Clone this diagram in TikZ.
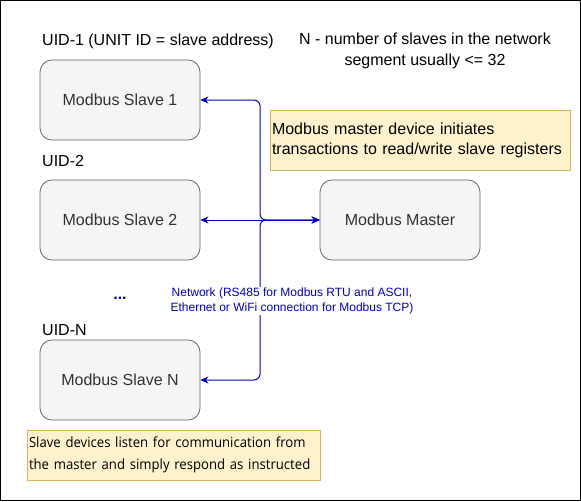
\documentclass[tikz,border=0pt]{standalone}
\usepackage{fontspec}
\setmainfont{Liberation Sans}
\newfontfamily\notefont[FakeStretch=0.94]{Open Sans}
\usetikzlibrary{arrows.meta}
\definecolor{boxfill}{HTML}{F5F5F5}
\definecolor{boxline}{HTML}{666666}
\definecolor{boxtext}{HTML}{333333}
\definecolor{notefill}{HTML}{FFF2CC}
\definecolor{noteline}{HTML}{D6B656}
\definecolor{netblue}{HTML}{0000CC}
\tikzset{
  devbox/.style={draw=boxline, fill=boxfill, rounded corners=12pt, minimum width=160pt, minimum height=80pt, text=boxtext, font=\fontsize{16}{20}\selectfont, line width=0.8pt},
  notebox/.style={draw=noteline, fill=notefill, line width=0.8pt, align=left, inner sep=2pt},
  plain/.style={font=\fontsize{16}{21}\selectfont, inner sep=0pt},
  edge/.style={draw=netblue, line width=1pt, rounded corners=6pt, {Stealth[length=8pt,width=7pt,inset=2.5pt]}-{Stealth[length=8pt,width=7pt,inset=2.5pt]}}
}
\begin{document}
\begin{tikzpicture}[x=1pt,y=-1pt]
\useasboundingbox (0,0) rectangle (581,501);
\draw[black, line width=1pt] (0.5,0.5) rectangle (580.5,500.5);

\node[devbox] (s1) at (120,100) {Modbus Slave 1};
\node[devbox] (s2) at (120,220) {Modbus Slave 2};
\node[devbox] (sN) at (120,380) {Modbus Slave N};
\node[devbox] (m) at (400,220) {Modbus Master};

\node[plain, anchor=west] (uid1) at (42,41) {UID-1 (UNIT ID = slave address)};
\node[plain, anchor=west] (uid2) at (42,161) {UID-2};
\node[plain, anchor=west] (uidN) at (42,330) {UID-N};
\node[plain, align=center] (nnote) at (425,51) {N - number of slaves in the network\\segment usually <= 32};

\node[notebox, minimum width=300pt, minimum height=60pt, text width=296pt, font=\fontsize{16}{20}\selectfont] (note1) at (420,140) {Modbus master device initiates\\transactions to read/write slave registers};
\node[notebox, minimum width=293pt, minimum height=50pt, text width=289pt, font=\notefont\fontsize{14}{22}\selectfont] (note2) at (173.5,455) {Slave devices listen for communication from\\the master and simply respond as instructed};

\coordinate (j) at (260,220);
\draw[edge] (m.west) -- (j) |- (s1.east);
\draw[edge] (m.west) -- (s2.east);
\draw[edge] (m.west) -- (j) |- (sN.east);

\node[text=netblue, fill=white, inner sep=1pt, align=center, font=\fontsize{12}{15}\selectfont] (net) at (292,301) {Network (RS485 for Modbus RTU and ASCII,\\Ethernet or WiFi connection for Modbus TCP)};
\node[text=netblue, anchor=base, font=\fontsize{16}{20}\selectfont\bfseries, inner sep=0pt] (dots) at (120,299) {...};
\end{tikzpicture}
\end{document}
